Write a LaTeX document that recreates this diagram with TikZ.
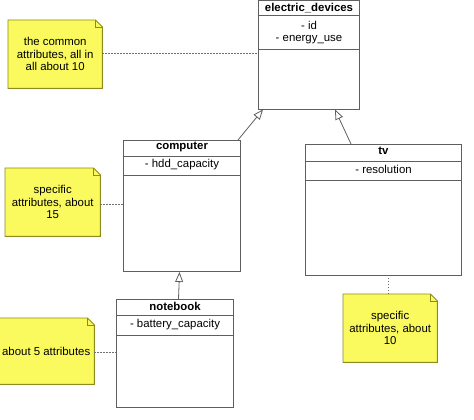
\documentclass[tikz,border=0pt]{standalone}
\usepackage{fontspec}
\setmainfont{Liberation Sans}
\usetikzlibrary{arrows.meta,calc,backgrounds}
\definecolor{notefill}{RGB}{250,250,95}
\definecolor{noteline}{RGB}{140,140,30}
\definecolor{boxline}{RGB}{95,95,95}
\definecolor{dotline}{RGB}{110,110,110}
\newcommand\notefold[1]{%
  \filldraw[fill=notefill,draw=noteline,line width=0.9pt] (#1.north west) -- ($(#1.north east)+(-7,0)$) -- ($(#1.north east)+(0,7)$) -- (#1.south east) -- (#1.south west) -- cycle;
  \draw[noteline,line width=0.7pt] ($(#1.north east)+(-7,0)$) -- ($(#1.north east)+(-7,7)$) -- ($(#1.north east)+(0,7)$);
}
\begin{document}
\begin{tikzpicture}[x=1pt,y=-1pt,
  font=\fontsize{11.4}{12.6}\selectfont,
  classbox/.style={draw=boxline,line width=1pt,fill=white,rectangle,inner sep=0pt,anchor=north west},
  notebox/.style={rectangle,inner sep=0pt,anchor=north west,align=center},
  title/.style={font=\fontsize{11.4}{12.6}\selectfont\bfseries,inner sep=0pt},
  attr/.style={inner sep=0pt},
  sep/.style={draw=boxline,line width=1pt},
  gen/.style={draw=boxline,line width=0.8pt,-{Triangle[open,length=10pt,width=8pt,fill=white]}},
  dotted link/.style={draw=dotline,line width=0.8pt,dash pattern=on 1.5pt off 1.5pt}]
\useasboundingbox (0,0) rectangle (474,420);

% class boxes
\node[classbox,minimum width=101pt,minimum height=108pt] (ed) at (258,0.5) {};
\node[classbox,minimum width=117pt,minimum height=131pt] (computer) at (123,140) {};
\node[classbox,minimum width=156pt,minimum height=131pt] (tv) at (305,144) {};
\node[classbox,minimum width=117pt,minimum height=108pt] (notebook) at (116,299) {};

\draw[sep] (ed.west |- 0,16) -- (ed.east |- 0,16);
\draw[sep] (ed.west |- 0,50) -- (ed.east |- 0,50);
\draw[sep] (computer.west |- 0,156) -- (computer.east |- 0,156);
\draw[sep] (computer.west |- 0,175) -- (computer.east |- 0,175);
\draw[sep] (tv.west |- 0,161) -- (tv.east |- 0,161);
\draw[sep] (tv.west |- 0,180) -- (tv.east |- 0,180);
\draw[sep] (notebook.west |- 0,315) -- (notebook.east |- 0,315);
\draw[sep] (notebook.west |- 0,335) -- (notebook.east |- 0,335);

\node[title] (edt) at ($(ed.north)+(0,8)$) {electric\_devices};
\node[attr] (eda1) at ($(ed.north)+(0,25)$) {- id};
\node[attr] (eda2) at ($(ed.north)+(0,39)$) {- energy\_use};
\node[title] (cot) at ($(computer.north)+(0,6.5)$) {computer};
\node[attr] (coa1) at ($(computer.north)+(0,25)$) {- hdd\_capacity};
\node[title] (tvt) at ($(tv.north)+(0,7)$) {tv};
\node[attr] (tva1) at ($(tv.north)+(0,25.5)$) {- resolution};
\node[title] (nbt) at ($(notebook.north)+(0,7)$) {notebook};
\node[attr] (nba1) at ($(notebook.north)+(0,25.5)$) {- battery\_capacity};

% notes
\node[notebox,minimum width=94pt,minimum height=68pt] (n1) at (8,20) {the common\\attributes, all in\\all about 10};
\node[notebox,minimum width=95pt,minimum height=68pt] (n2) at (5,168) {specific\\attributes, about\\15};
\node[notebox,minimum width=96pt,minimum height=66pt] (n3) at (-2,318) {about 5 attributes};
\node[notebox,minimum width=94pt,minimum height=68pt] (n4) at (343,294) {specific\\attributes, about\\10};
\begin{pgfonlayer}{background}
\notefold{n1}
\notefold{n2}
\notefold{n3}
\notefold{n4}
\end{pgfonlayer}

% generalisations
\draw[gen] ($(computer.north east)+(-3,0)$) -- ($(ed.south west)+(5,0)$);
\draw[gen] ($(tv.north west)+(46,0)$) -- ($(ed.south west)+(77,0)$);
\draw[gen] ($(notebook.north)+(3.5,0)$) -- ($(computer.south)+(-2.5,0)$);

% note links
\draw[dotted link] (n1.east |- 0,53) -- (ed.west |- 0,53);
\draw[dotted link] (n2.east |- 0,204) -- (computer.west |- 0,204);
\draw[dotted link] (n3.east |- 0,352) -- (notebook.west |- 0,352);
\draw[dotted link] (n4.north -| 388,0) -- (tv.south -| 388,0);
\end{tikzpicture}
\end{document}
